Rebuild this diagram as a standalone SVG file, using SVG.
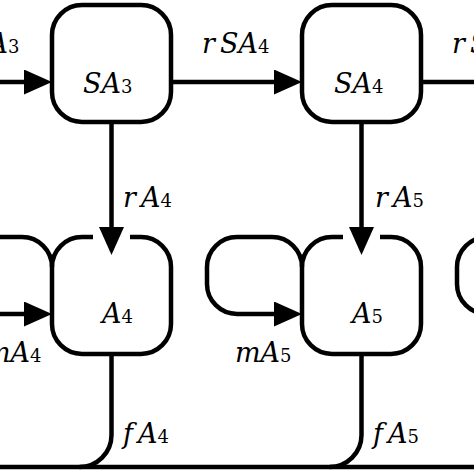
<svg xmlns="http://www.w3.org/2000/svg" width="474" height="474" viewBox="0 0 474 474">
<style>
.box{fill:#fff;stroke:#000;stroke-width:4.5}
.ln{fill:none;stroke:#000;stroke-width:4.5}
.lbl{font-family:"DejaVu Serif","Liberation Serif",serif;font-size:27px;fill:#000}
.it{font-style:italic}
.sub{font-style:normal;font-size:18px}
</style>
<defs>
<marker id="ah" viewBox="0 0 28 25" refX="18" refY="12.5" markerWidth="28" markerHeight="25" markerUnits="userSpaceOnUse" orient="auto">
<path d="M0,0 L28,12.5 L0,25 z" fill="#000"/>
</marker>
</defs>
<rect width="474" height="474" fill="#fff"/>
<g id="connectors">
<path class="ln" d="M -80,82 L 42,82" marker-end="url(#ah)"/>
<path class="ln" d="M 171,82 L 292,82" marker-end="url(#ah)"/>
<path class="ln" d="M 421,82 L 480,82"/>
<path class="ln" d="M 111.5,122 L 111.5,245" marker-end="url(#ah)"/>
<path class="ln" d="M 361.5,122 L 361.5,245" marker-end="url(#ah)"/>
<path class="ln" d="M 52,267 A 30 30 0 0 0 22,237 L -13,237 A 30 30 0 0 0 -43,267 L -43,284 A 30 30 0 0 0 -13,314 L 42,314" marker-end="url(#ah)"/>
<path class="ln" d="M 302,267 A 30 30 0 0 0 272,237 L 237,237 A 30 30 0 0 0 207,267 L 207,284 A 30 30 0 0 0 237,314 L 292,314" marker-end="url(#ah)"/>
<path class="ln" d="M 552,267 A 30 30 0 0 0 522,237 L 487,237 A 30 30 0 0 0 457,267 L 457,284 A 30 30 0 0 0 487,314 L 542,314" marker-end="url(#ah)"/>
<path class="ln" d="M 111.5,354 L 111.5,435 A 32 32 0 0 1 79.5,467"/>
<path class="ln" d="M 361.5,354 L 361.5,435 A 32 32 0 0 1 329.5,467"/>
<path class="ln" d="M -5,467 L 480,467"/>
</g>
<g id="edge-labels" class="lbl">
<text x="-48" y="53"><tspan class="it">r</tspan><tspan class="it" dx="5">SA</tspan><tspan class="sub">3</tspan></text>
<text x="202" y="53"><tspan class="it">r</tspan><tspan class="it" dx="5">SA</tspan><tspan class="sub">4</tspan></text>
<text x="452" y="53"><tspan class="it">r</tspan><tspan class="it" dx="5">SA</tspan><tspan class="sub">5</tspan></text>
<text x="123" y="207"><tspan class="it">r</tspan><tspan class="it" dx="5">A</tspan><tspan class="sub">4</tspan></text>
<text x="375" y="207"><tspan class="it">r</tspan><tspan class="it" dx="5">A</tspan><tspan class="sub">5</tspan></text>
<text x="-15" y="362"><tspan class="it">mA</tspan><tspan class="sub">4</tspan></text>
<text x="235" y="362"><tspan class="it">mA</tspan><tspan class="sub">5</tspan></text>
<text x="123" y="443"><tspan class="it">f</tspan><tspan class="it" dx="5">A</tspan><tspan class="sub">4</tspan></text>
<text x="373" y="443"><tspan class="it">f</tspan><tspan class="it" dx="5">A</tspan><tspan class="sub">5</tspan></text>
</g>
<g id="node-SA3">
<rect class="box" x="52" y="5" width="119" height="117" rx="30"/>
<text class="lbl" x="83" y="93"><tspan class="it">SA</tspan><tspan class="sub">3</tspan></text>
</g>
<g id="node-SA4">
<rect class="box" x="302" y="5" width="119" height="117" rx="30"/>
<text class="lbl" x="334" y="93"><tspan class="it">SA</tspan><tspan class="sub">4</tspan></text>
</g>
<g id="node-A4">
<path class="ln" d="M 130,237 L 141,237 A 30 30 0 0 1 171,267 L 171,324 A 30 30 0 0 1 141,354 L 82,354 A 30 30 0 0 1 52,324 L 52,267 A 30 30 0 0 1 82,237 L 93,237"/>
<text class="lbl" x="102" y="323"><tspan class="it">A</tspan><tspan class="sub">4</tspan></text>
</g>
<g id="node-A5">
<path class="ln" d="M 380,237 L 391,237 A 30 30 0 0 1 421,267 L 421,324 A 30 30 0 0 1 391,354 L 332,354 A 30 30 0 0 1 302,324 L 302,267 A 30 30 0 0 1 332,237 L 343,237"/>
<text class="lbl" x="352" y="323"><tspan class="it">A</tspan><tspan class="sub">5</tspan></text>
</g>
</svg>
